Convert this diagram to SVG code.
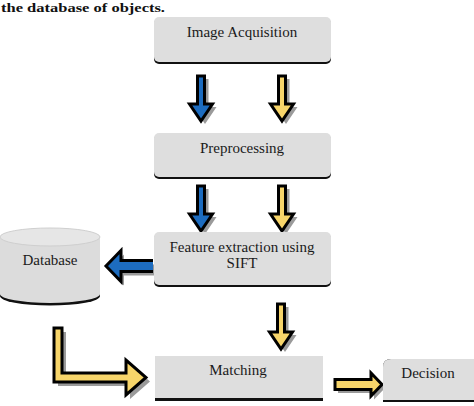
<svg xmlns="http://www.w3.org/2000/svg" width="474" height="406" viewBox="0 0 474 406">
<defs>
<style>
.lbl{font-family:"Liberation Serif","Times New Roman",serif;font-size:15px;fill:#1a1a1a;text-anchor:middle}
.box{fill:#dedede}
.edge{fill:#111}
.arr{stroke:#000;stroke-width:3;stroke-linejoin:miter}
.blue{fill:#1d6cbf}
.yel{fill:#f7d56a}
.shd{fill:#9a9a9a}
</style>
<path id="down" d="M-3.5,0 L3.5,0 L3.5,28 L11.5,28 L0,45 L-11.5,28 L-3.5,28 Z"/>
</defs>
<rect width="474" height="406" fill="#fff"/>
<text x="1" y="12" textLength="164" lengthAdjust="spacingAndGlyphs" style="font-family:'Liberation Serif',serif;font-size:12px;font-weight:bold;fill:#111">the database of objects.</text>
<g id="connectors">
  <use href="#down" x="205" y="79" class="shd"/>
  <use href="#down" x="201" y="76" class="arr blue"/>
  <use href="#down" x="286" y="79" class="shd"/>
  <use href="#down" x="282" y="76" class="arr yel"/>
  <use href="#down" x="205" y="189" class="shd"/>
  <use href="#down" x="201" y="186" class="arr blue"/>
  <use href="#down" x="286" y="189" class="shd"/>
  <use href="#down" x="282" y="186" class="arr yel"/>
  <use href="#down" x="285" y="307" class="shd"/>
  <use href="#down" x="281" y="304" class="arr yel"/>
  <path class="shd" d="M156,264.5 L124,264.5 L124,254.5 L109,270 L124,285.5 L124,275.5 L156,275.5 Z"/>
  <path class="arr blue" d="M153,260.5 L121,260.5 L121,250.5 L106,266 L121,281.5 L121,271.5 L153,271.5"/>
  <path class="shd" d="M58,332 L66,332 L66,377 L130,377 L130,364 L150,381.5 L130,399 L130,386 L58,386 Z"/>
  <path class="arr yel" d="M54,328 L62,328 L62,373 L126,373 L126,360 L146,377.5 L126,395 L126,382 L54,382 Z"/>
  <path class="shd" d="M338,383 L374,383 L374,376.5 L385,388 L374,399.5 L374,393 L338,393 Z"/>
  <path class="arr yel" d="M335,379.5 L371,379.5 L371,373 L382,384.5 L371,396 L371,389.5 L335,389.5 Z"/>
</g>
<g id="image-acquisition">
  <rect class="edge" x="154" y="19" width="177" height="45" rx="5"/>
  <rect class="box" x="154" y="17" width="177" height="45" rx="5"/>
  <text class="lbl" x="242" y="37">Image Acquisition</text>
</g>
<g id="preprocessing">
  <rect class="edge" x="154" y="135" width="177" height="44" rx="5"/>
  <rect class="box" x="154" y="133" width="177" height="44" rx="5"/>
  <text class="lbl" x="242" y="153">Preprocessing</text>
</g>
<g id="feature-extraction">
  <rect class="edge" x="154" y="234" width="177" height="53" rx="5"/>
  <rect class="box" x="154" y="232" width="177" height="53" rx="5"/>
  <text class="lbl" x="242" y="252">Feature extraction using</text>
  <text class="lbl" x="242" y="268">SIFT</text>
</g>
<g id="database">
  <path d="M0,237 L0,296 A50,9.5 0 0 0 100,296 L100,237 Z" fill="#111"/>
  <path d="M0,237 L0,294 A50,9 0 0 0 100,294 L100,237 Z" fill="#dcdcdc"/>
  <ellipse cx="50" cy="237" rx="50" ry="9" fill="#e6e6e6" stroke="#cfcfcf" stroke-width="1"/>
  <text class="lbl" x="50" y="265">Database</text>
</g>
<g id="matching">
  <rect class="edge" x="155" y="357" width="168" height="44"/>
  <rect class="box" x="155" y="356" width="168" height="42"/>
  <text class="lbl" x="238" y="375">Matching</text>
</g>
<g id="decision">
  <path class="edge" d="M383,402 L383,367 Q383,359 391,359 L474,359 L474,402 Z"/>
  <path class="box" d="M383,400 L383,367 Q383,359 391,359 L474,359 L474,400 Z"/>
  <text class="lbl" x="428" y="378">Decision</text>
</g>
</svg>
